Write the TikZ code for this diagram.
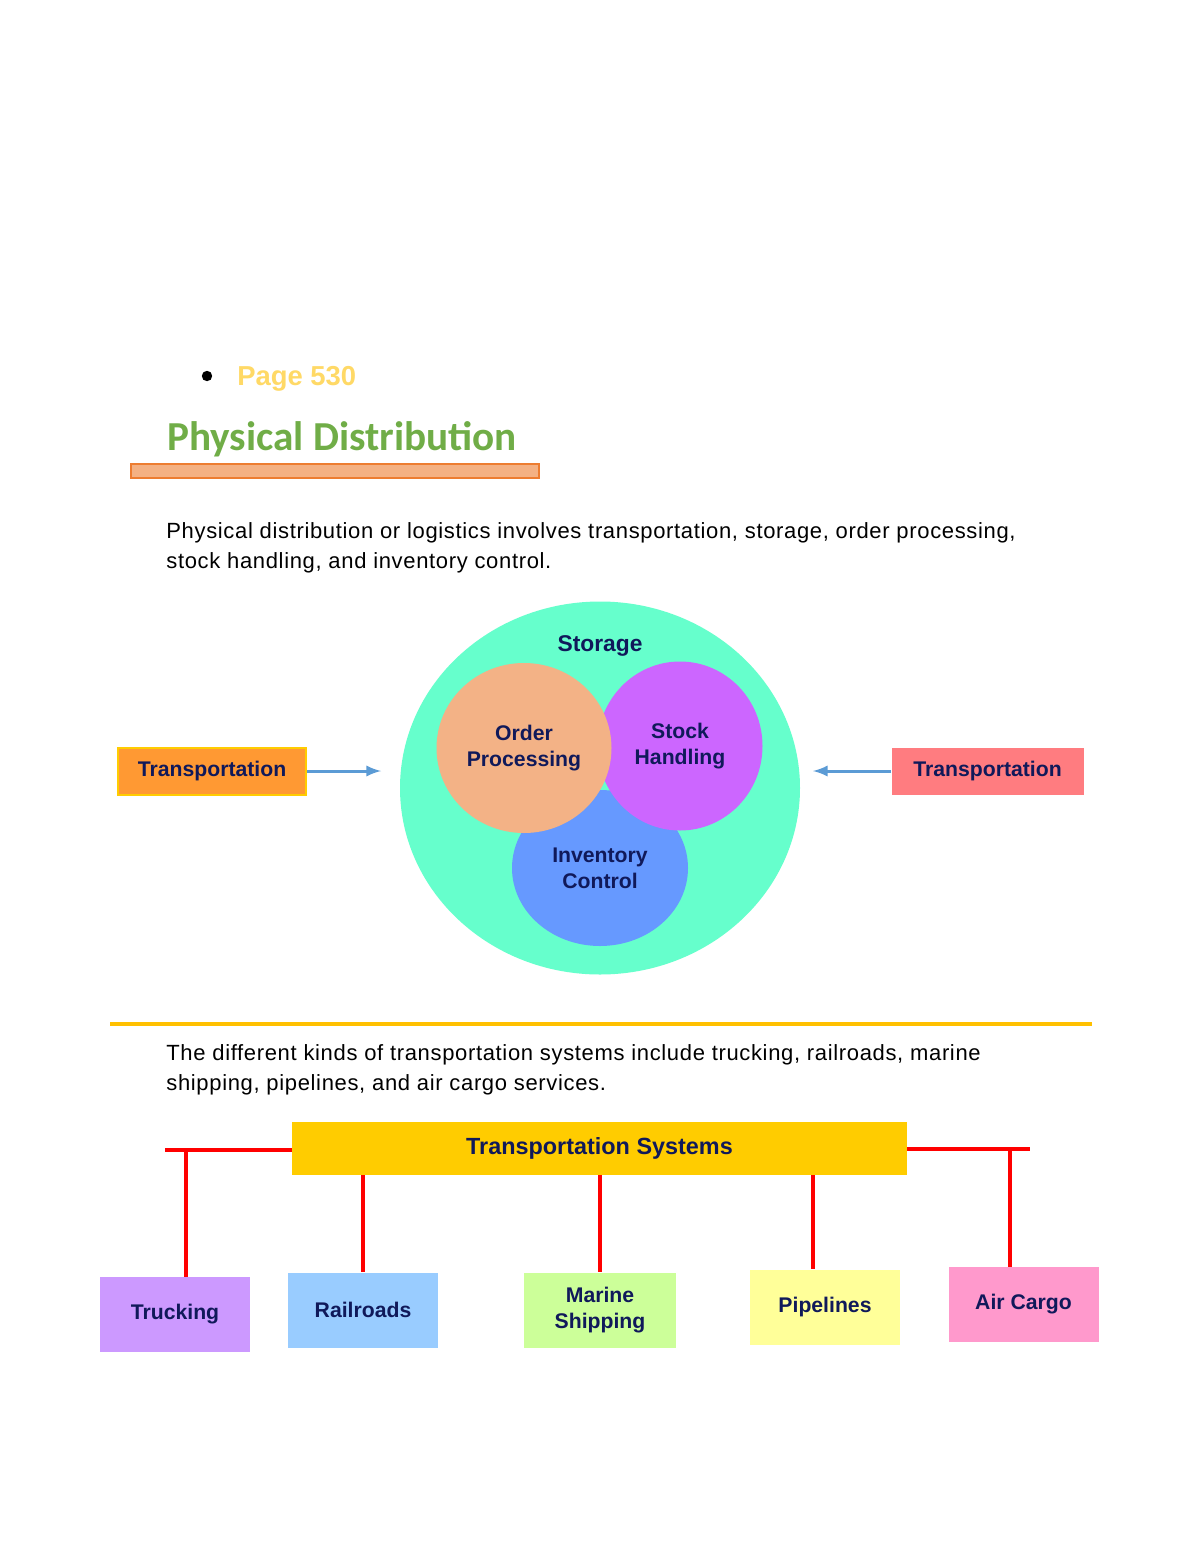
\documentclass[tikz,border=0pt]{standalone}
\usepackage{fontspec}
\setmainfont{Liberation Sans}
\newfontfamily\titlefont{Carlito}
\newfontfamily\parafont[LetterSpace=3]{Liberation Sans}
\usetikzlibrary{shapes.geometric,arrows}
\definecolor{navy}{HTML}{10195A}
\definecolor{pagecol}{HTML}{FFD966}
\definecolor{titlecol}{HTML}{70AD47}
\definecolor{barfill}{HTML}{F4B183}
\definecolor{barline}{HTML}{ED7D31}
\definecolor{storcol}{HTML}{66FFCC}
\definecolor{ordcol}{HTML}{F3B286}
\definecolor{stockcol}{HTML}{CC66FF}
\definecolor{invcol}{HTML}{6699FF}
\definecolor{transLcol}{HTML}{FF9933}
\definecolor{transRcol}{HTML}{FF7C80}
\definecolor{arrowblue}{HTML}{5B9BD5}
\definecolor{rulecol}{HTML}{FFC000}
\definecolor{syscol}{HTML}{FFCC00}
\definecolor{truckcol}{HTML}{CC99FF}
\definecolor{railcol}{HTML}{99CCFF}
\definecolor{marinecol}{HTML}{CCFF99}
\definecolor{pipecol}{HTML}{FFFF99}
\definecolor{aircol}{HTML}{FF99CC}
\tikzset{
	para/.style     = {anchor=north west, align=left, inner sep=0pt,
		font=\parafont\fontsize{11}{15}\selectfont},
	lbl/.style      = {inner sep=0pt, text=navy, align=center,
		font=\bfseries\fontsize{10.6}{13}\selectfont},
	part/.style     = {ellipse, fill=#1, inner sep=0pt, lbl},
	transbox/.style = {rectangle, fill=#1, inner sep=0pt, lbl,
		minimum width=94pt, minimum height=23.5pt},
	modebox/.style  = {rectangle, fill=#1, inner sep=0pt, lbl,
		minimum width=75pt, minimum height=37.5pt},
	redline/.style  = {draw=red, line width=2pt},
	bluearrow/.style = {->, draw=arrowblue, line width=1.5pt}
}

\begin{document}
\begin{tikzpicture}[x=0.5pt, y=-0.5pt, >=latex]
\fill[white] (0,0) rectangle (1200,1553);
\useasboundingbox (0,0) rectangle (1200,1553);

% heading
\fill (207,376) circle (2.6pt);
\node[anchor=west, inner sep=0pt, text=pagecol,
	font=\bfseries\fontsize{13.7}{16}\selectfont] (page) at (237,379) {Page 530};
\node[anchor=base west, inner sep=0pt, text=titlecol,
	font=\titlefont\bfseries\fontsize{20.6}{24}\selectfont] (title) at (167,450) {Physical Distribution};
\draw[fill=barfill, draw=barline, line width=0.6pt] (131,464) rectangle (539,478);

\node[para] (intro) at (166,522) {Physical distribution or logistics involves transportation, storage, order processing,\\stock handling, and inventory control.};

% storage diagram
\node[ellipse, fill=storcol, minimum width=200pt, minimum height=186.5pt] (storage) at (600,788) {};
\node[lbl, font=\bfseries\fontsize{11.4}{13}\selectfont] (stortxt) at (600,646) {Storage};
\node[part=invcol, minimum width=88pt, minimum height=78pt] (inv) at (600,868) {Inventory\\Control};
\node[part=stockcol, minimum width=82.5pt, minimum height=84.5pt] (stock) at (680,746) {Stock\\Handling};
\node[part=ordcol, minimum width=87.5pt, minimum height=85pt] (order) at (524,748) {Order\\Processing};

\node[transbox=transLcol, draw=syscol, line width=1pt] (transL) at (212,771) {Transportation};
\node[transbox=transRcol, minimum width=96pt] (transR) at (987.5,771) {Transportation};
\coordinate (inL) at (381,771);
\coordinate (inR) at (813,771);
\draw[bluearrow] (transL) -- (inL);
\draw[bluearrow] (transR) -- (inR);

\draw[rulecol, line width=1.6pt] (110,1024) -- (1092,1024);

\node[para] (modes) at (166,1044) {The different kinds of transportation systems include trucking, railroads, marine\\shipping, pipelines, and air cargo services.};

% transportation systems
\node[rectangle, fill=syscol, lbl, minimum width=307.5pt, minimum height=26.5pt,
	font=\bfseries\fontsize{11.7}{14}\selectfont] (sys) at (599.5,1148.5) {Transportation Systems};
\node[modebox=truckcol] (truck) at (175,1314.5) {Trucking};
\node[modebox=railcol] (rail) at (363,1310) {Railroads};
\node[modebox=marinecol, minimum width=76pt] (marine) at (600,1310) {Marine\\Shipping};
\node[modebox=pipecol] (pipe) at (825,1307) {Pipelines};
\node[modebox=aircol] (air) at (1023.5,1304.5) {Air Cargo};

\coordinate (endL) at (165,1150);
\coordinate (endR) at (1030,1149);
\coordinate (jL) at (186,1150);
\coordinate (jP) at (813,1175);
\coordinate (jR) at (1010,1149);
\draw[redline, line width=2.4pt] (sys.west |- endL) -- (endL);
\draw[redline, line width=2.4pt] (sys.east |- endR) -- (endR);
\draw[redline] (jL) -- (jL |- truck.north);
\draw[redline] (sys.south -| rail.north) -- (rail.north);
\draw[redline] (sys.south -| marine.north) -- (marine.north);
\draw[redline] (jP) -- (jP |- pipe.north);
\draw[redline] (jR) -- (jR |- air.north);
\end{tikzpicture}
\end{document}
